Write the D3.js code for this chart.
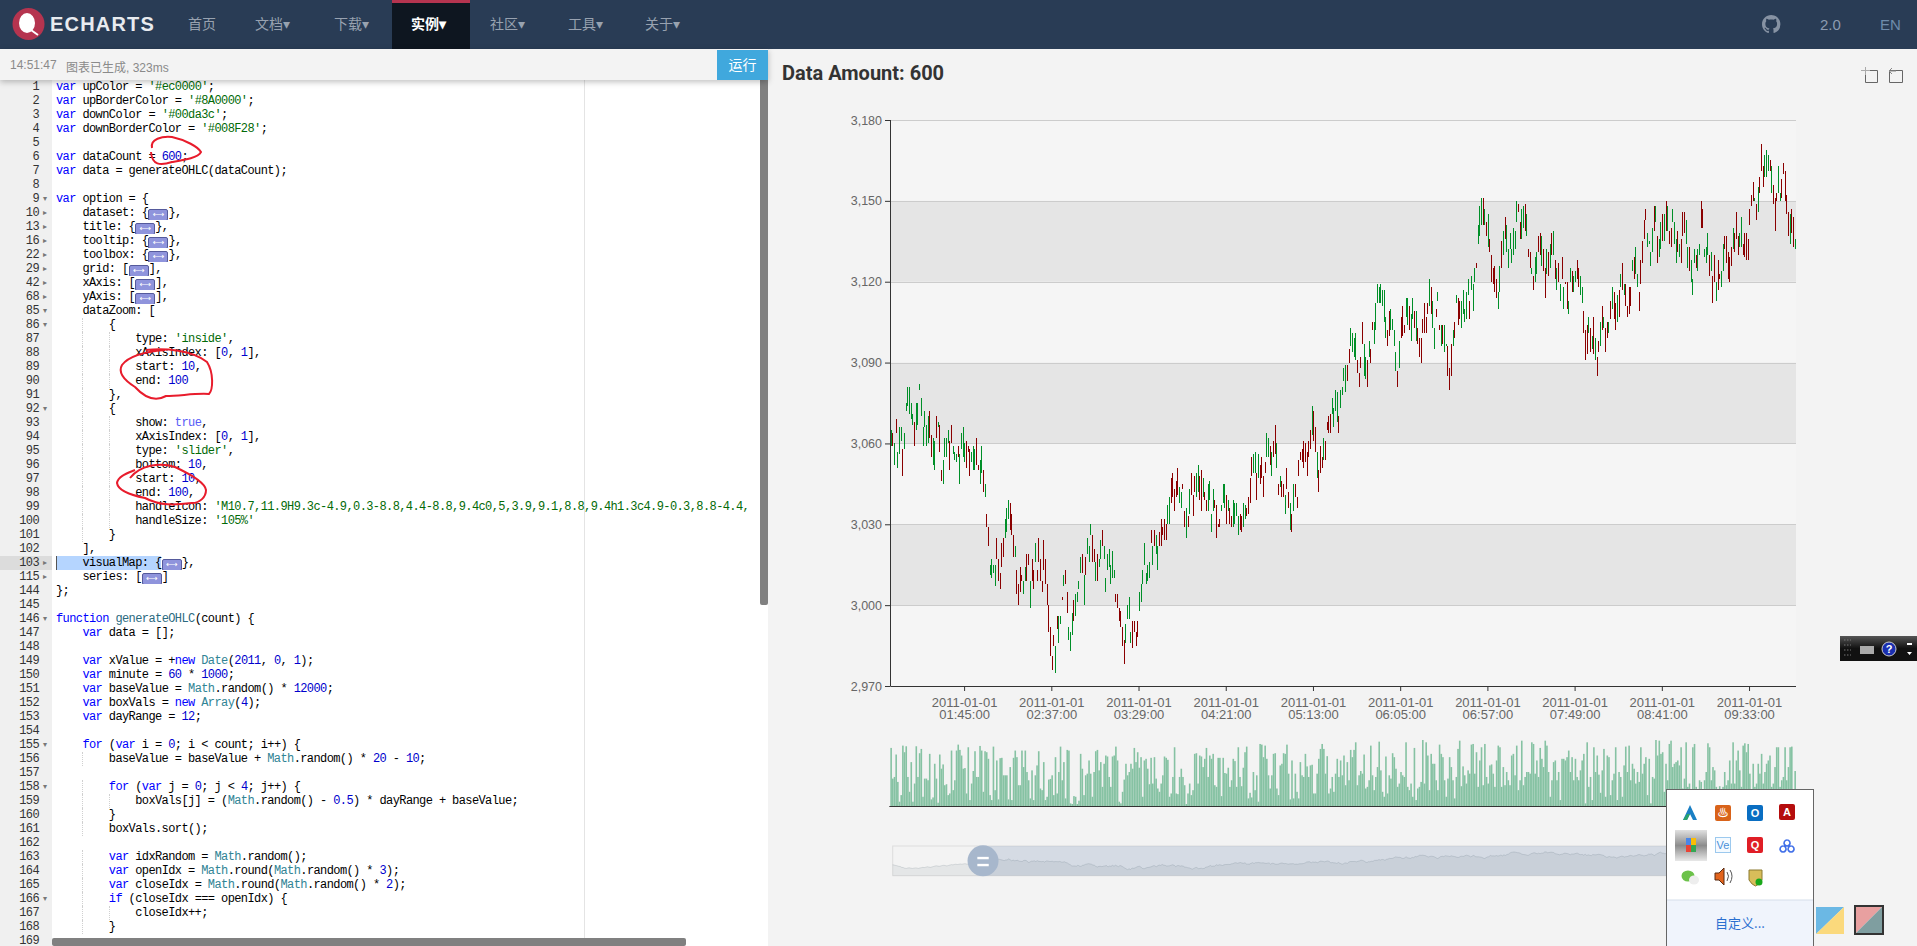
<!DOCTYPE html>
<html>
<head>
<meta charset="utf-8">
<title>ECharts example</title>
<script src="https://cdn.jsdelivr.net/npm/d3@7/dist/d3.min.js"></script>
<style>
  html, body { margin: 0; padding: 0; width: 1917px; height: 946px; overflow: hidden; background: #f3f3f3; font-family: "Liberation Sans", "Noto Sans CJK SC", sans-serif; }
  .abs { position: absolute; white-space: pre; }
  #nav { left: 0; top: 0; width: 1917px; height: 49px; background: #293c55; }
  .navitem { font-size: 14px; color: #98a2b0; top: 16px; line-height: 17px; }
  #tab { left: 392px; top: 0; width: 78px; height: 46px; background: #0e1620; border-top: 3px solid #b5344f; }
  #toolbar { left: 0; top: 49px; width: 768px; height: 31px; background: #f3f3f3; box-shadow: 0 2px 6px rgba(0,0,0,.25); z-index: 3; font-size: 12px; color: #8a8a8a; }
  #run { left: 717px; top: 50px; width: 51px; height: 30px; background: #40a8dd; color: #fff; font-size: 14px; line-height: 30px; text-align: center; z-index: 4; }
  #editor { left: 0; top: 80px; width: 768px; height: 866px; background: #fff; overflow: hidden; font-family: "Liberation Mono", monospace; font-size: 12px; letter-spacing: -0.6px; }
  #gutter { left: 0; top: 0; width: 52px; height: 866px; background: #f0f0f0; }
  .row { left: 56px; width: 704px; height: 14px; line-height: 14px; overflow: hidden; color: #000; }
  .num { left: 0; width: 39px; text-align: right; height: 14px; line-height: 14px; color: #333; }
  .fold { left: 43px; font-size: 8px; color: #777; height: 14px; line-height: 14px; font-family: "DejaVu Sans"; }
  .guide { top: 0; width: 0; height: 14px; border-left: 1px dotted #d0d0d0; }
  .kw { color: #0000ff; } .str { color: #036a07; } .nb { color: #0000cd; } .sup { color: #318495; } .con { color: #585cf6; } .def { color: #2b6a80; }
  .fw { display: inline-block; width: 20px; height: 12px; line-height: 10px; vertical-align: -1px; background: #8f94dc; border: 1px solid #555a9c; border-radius: 2px; margin: 0; color: #fff; font-size: 8px; letter-spacing: 0; text-align: center; box-sizing: border-box; font-family: "DejaVu Sans"; }
  svg { position: absolute; left: 0; top: 0; z-index: 5; }
  .price-axis text, .time-axis text { font-family: "Liberation Sans", sans-serif; font-size: 13px; fill: #666; }
  .price-axis text { font-size: 12.5px; }
  .price-axis path, .price-axis line, .time-axis path, .time-axis line { stroke: #333; }
</style>
</head>
<body>
<script>
// candles, one entry per minute from 01:01 to 10:00
const candleCount = 540;
const highs = [
  3065,3064,3060,3069,3057,3066,3066,3058,3064,3075,
  3081,3081,3075,3071,3068,3075,3075,3082,3077,3066,
  3072,3067,3070,3072,3063,3062,3061,3070,3068,3067,
  3050,3054,3062,3062,3065,3061,3067,3059,3057,3056,
  3059,3056,3064,3066,3060,3061,3059,3058,3057,3059,
  3058,3062,3052,3054,3059,3050,3045,3034,3029,3015,
  3017,3015,3015,3025,3017,3012,3023,3025,3032,3036,
  3039,3038,3034,3026,3022,3013,3008,3014,3011,3009,
  3014,3019,3019,3009,3017,3013,3023,3013,3025,3017,
  3009,3024,3017,3008,3000,2992,2981,2989,2985,2996,
  2996,2996,3003,3011,3013,3005,2992,2990,2997,3002,
  3004,3005,3009,3018,3019,3011,3018,3025,3022,3030,
  3026,3021,3016,3019,3017,3024,3028,3022,3010,3019,
  3021,3015,3020,3013,3004,3004,2999,2998,2992,2987,
  2993,3000,3003,2990,2994,2994,2990,2994,3005,3008,
  3013,3023,3012,3015,3016,3028,3022,3028,3026,3022,
  3027,3032,3029,3032,3030,3037,3040,3047,3049,3043,
  3046,3051,3044,3042,3045,3035,3036,3033,3043,3049,
  3041,3048,3049,3052,3048,3050,3047,3042,3039,3045,
  3046,3034,3043,3039,3037,3030,3032,3037,3045,3045,
  3041,3039,3036,3033,3039,3038,3038,3033,3034,3033,
  3038,3037,3036,3040,3047,3055,3056,3057,3049,3056,
  3052,3055,3048,3053,3064,3062,3059,3057,3061,3067,
  3060,3045,3048,3046,3045,3041,3051,3042,3038,3034,
  3045,3045,3040,3054,3057,3058,3061,3060,3057,3061,
  3065,3074,3072,3066,3057,3050,3059,3055,3062,3061,
  3068,3070,3071,3077,3073,3080,3079,3070,3080,3081,
  3088,3089,3089,3095,3103,3101,3099,3101,3091,3086,
  3092,3105,3097,3092,3091,3098,3095,3105,3105,3112,
  3119,3118,3119,3117,3117,3107,3102,3109,3110,3106,
  3102,3094,3087,3098,3107,3111,3104,3114,3114,3111,
  3108,3114,3109,3109,3103,3099,3099,3106,3112,3107,
  3112,3121,3118,3113,3103,3110,3116,3104,3104,3104,
  3104,3097,3096,3088,3097,3102,3105,3115,3114,3113,
  3113,3117,3110,3116,3121,3113,3122,3119,3125,3127,
  3141,3148,3151,3151,3147,3142,3145,3136,3130,3125,
  3126,3121,3116,3126,3135,3139,3144,3141,3132,3138,
  3132,3140,3139,3150,3149,3142,3147,3148,3149,3145,
  3132,3131,3125,3122,3129,3131,3137,3138,3137,3132,
  3125,3132,3131,3134,3138,3139,3128,3125,3127,3119,
  3129,3118,3120,3120,3113,3125,3124,3122,3124,3128,
  3125,3122,3118,3109,3102,3104,3107,3103,3100,3107,
  3099,3092,3098,3105,3111,3107,3103,3105,3105,3113,
  3118,3116,3112,3115,3117,3123,3127,3119,3119,3111,
  3118,3118,3128,3129,3133,3123,3116,3128,3135,3143,
  3147,3138,3135,3131,3140,3148,3148,3137,3136,3142,
  3145,3145,3150,3148,3139,3140,3147,3142,3136,3139,
  3134,3136,3146,3146,3143,3133,3133,3128,3121,3132,
  3130,3132,3134,3150,3147,3132,3133,3138,3130,3131,
  3122,3130,3120,3128,3123,3124,3134,3137,3137,3131,
  3129,3133,3140,3138,3146,3137,3138,3144,3134,3138,
  3138,3136,3147,3152,3157,3151,3149,3155,3159,3171,
  3163,3167,3169,3167,3165,3163,3156,3151,3153,3163,
  3153,3158,3164,3161,3152,3146,3145,3147,3144,3136
];
const lows = [
  3059,3059,3052,3064,3051,3056,3061,3048,3058,3072,
  3074,3071,3069,3067,3059,3065,3067,3080,3070,3059,
  3066,3059,3060,3062,3055,3052,3050,3062,3066,3057,
  3046,3045,3055,3055,3060,3050,3060,3056,3054,3053,
  3055,3045,3058,3055,3053,3051,3057,3048,3053,3050,
  3050,3052,3050,3045,3049,3042,3040,3029,3022,3011,
  3010,3012,3007,3017,3009,3006,3014,3018,3025,3027,
  3032,3028,3026,3018,3018,3004,3000,3005,3009,3004,
  3009,3009,3015,2999,3009,3006,3016,3009,3016,3009,
  3005,3013,3008,3000,2990,2981,2976,2985,2975,2991,
  2986,2993,3002,3007,3008,2997,2987,2983,2989,2994,
  2996,3001,3006,3012,3012,3000,3011,3019,3016,3026,
  3016,3016,3009,3009,3014,3017,3022,3017,3005,3013,
  3014,3008,3010,3010,3001,2999,2994,2992,2985,2978,
  2986,2995,2995,2986,2984,2990,2985,2988,2998,3001,
  3008,3015,3008,3009,3010,3023,3015,3022,3019,3013,
  3022,3022,3026,3024,3024,3030,3030,3038,3040,3035,
  3040,3041,3038,3036,3043,3029,3025,3029,3034,3041,
  3033,3042,3040,3042,3039,3035,3040,3039,3035,3035,
  3039,3027,3035,3036,3025,3029,3029,3035,3038,3036,
  3030,3035,3030,3029,3029,3030,3033,3026,3028,3027,
  3029,3032,3033,3034,3038,3048,3049,3049,3039,3047,
  3045,3047,3040,3049,3055,3055,3052,3048,3055,3056,
  3051,3041,3044,3040,3040,3034,3043,3036,3028,3027,
  3035,3040,3036,3048,3054,3053,3051,3053,3048,3055,
  3058,3063,3061,3057,3047,3042,3049,3051,3054,3054,
  3065,3064,3064,3071,3066,3072,3068,3064,3073,3078,
  3083,3079,3083,3090,3096,3094,3092,3091,3086,3081,
  3088,3097,3085,3084,3081,3092,3090,3102,3097,3102,
  3112,3112,3112,3111,3105,3099,3096,3100,3102,3102,
  3096,3087,3081,3088,3099,3100,3101,3107,3104,3102,
  3098,3106,3103,3098,3097,3092,3090,3101,3101,3101,
  3108,3111,3108,3103,3095,3107,3113,3102,3096,3097,
  3094,3096,3085,3080,3085,3096,3099,3112,3104,3106,
  3103,3108,3105,3106,3115,3106,3117,3109,3120,3125,
  3134,3137,3141,3141,3141,3137,3133,3131,3120,3119,
  3116,3114,3110,3116,3125,3130,3136,3131,3125,3132,
  3127,3130,3132,3142,3146,3136,3136,3140,3139,3137,
  3129,3125,3123,3117,3120,3123,3131,3130,3126,3124,
  3114,3123,3122,3125,3130,3130,3121,3117,3120,3113,
  3121,3110,3119,3110,3108,3120,3116,3116,3120,3121,
  3118,3115,3112,3101,3091,3093,3101,3094,3095,3093,
  3091,3085,3094,3096,3102,3103,3094,3099,3101,3106,
  3110,3106,3102,3105,3107,3118,3117,3115,3111,3107,
  3108,3111,3124,3121,3123,3118,3109,3119,3127,3136,
  3143,3133,3134,3126,3131,3139,3142,3127,3129,3132,
  3135,3135,3139,3139,3134,3133,3142,3134,3127,3131,
  3129,3127,3137,3138,3134,3125,3124,3120,3115,3127,
  3125,3124,3130,3140,3140,3129,3127,3130,3122,3124,
  3112,3120,3113,3117,3121,3118,3124,3132,3127,3121,
  3120,3126,3132,3131,3136,3130,3133,3133,3130,3129,
  3128,3128,3141,3148,3150,3150,3143,3146,3153,3161,
  3155,3159,3159,3161,3161,3153,3149,3139,3150,3153,
  3150,3151,3160,3150,3145,3137,3134,3138,3133,3132
];
// 1 = close above open (red), 0 = close below open (green)
const closedUp = [
  0,1,0,1,0,0,0,1,0,0,
  0,0,0,0,1,0,0,0,0,0,
  0,0,0,1,1,0,0,1,0,1,
  1,0,0,0,0,1,1,0,0,0,
  1,0,0,0,0,1,1,1,0,0,
  0,1,1,0,0,1,0,1,1,0,
  0,0,0,1,1,1,1,1,0,0,
  0,1,1,1,0,1,1,1,1,0,
  0,1,1,0,1,1,0,1,1,1,
  1,1,1,1,1,1,1,1,0,1,
  0,0,1,0,1,1,0,0,0,1,
  0,0,0,0,1,0,1,0,0,0,
  1,1,0,1,0,0,1,0,0,0,
  0,0,0,0,1,1,1,1,1,1,
  0,0,0,0,1,1,1,1,0,0,
  0,0,0,0,0,1,0,1,0,0,
  1,1,1,1,1,0,0,1,1,1,
  1,1,0,0,1,1,0,1,0,1,
  1,1,0,0,1,1,0,1,1,0,
  0,0,0,1,1,1,1,0,0,0,
  1,0,1,1,0,0,0,0,1,1,
  0,0,1,1,1,1,0,0,1,0,
  1,1,1,1,0,0,1,0,1,1,
  0,1,0,1,1,0,1,1,0,1,
  0,1,1,1,1,1,1,1,1,1,
  1,0,1,1,0,1,1,1,0,1,
  1,1,1,0,0,0,0,1,0,0,
  0,0,1,1,0,0,0,0,1,1,
  1,1,0,0,1,0,1,1,0,0,
  0,0,0,0,0,0,1,1,0,0,
  0,0,1,0,1,1,1,0,0,1,
  0,0,1,0,1,1,1,1,1,1,
  1,0,1,0,0,1,0,1,0,1,
  0,0,1,1,1,0,1,0,1,1,
  0,0,0,0,0,1,0,0,0,1,
  0,0,0,1,0,1,0,1,1,1,
  1,1,0,0,1,0,1,0,0,0,
  0,0,0,0,1,1,0,0,1,0,
  1,1,0,1,0,0,1,1,0,1,
  1,0,1,0,1,0,1,0,1,0,
  1,0,1,1,0,0,1,0,0,1,
  1,0,0,1,1,1,0,1,0,1,
  0,1,1,0,1,0,1,1,0,1,
  0,1,1,0,1,0,1,0,1,1,
  1,1,0,1,0,0,1,1,1,1,
  1,0,0,0,0,1,0,1,0,0,
  1,0,1,0,1,1,0,0,0,1,
  0,1,1,1,0,0,1,0,0,0,
  1,0,0,1,1,0,0,0,1,0,
  1,1,0,1,1,0,0,1,1,1,
  1,1,0,1,1,1,0,0,1,1,
  1,1,1,1,1,0,1,0,1,1,
  1,0,0,0,1,0,1,1,1,0,
  0,1,1,1,1,1,0,1,1,0
];
const volumes = [
  176,83,88,156,73,13,33,183,163,181,
  88,43,133,13,68,181,88,160,173,28,
  83,83,78,158,20,26,128,83,10,156,
  113,126,63,66,33,38,168,48,78,168,
  186,170,153,113,115,38,178,18,68,106,
  166,88,88,182,168,43,166,163,143,33,
  18,180,48,138,20,145,146,93,93,93,
  20,118,18,146,168,148,63,63,168,118,
  168,103,78,23,108,18,93,123,166,53,
  48,133,18,28,80,82,93,33,148,38,
  103,180,78,133,23,170,168,8,6,30,
  28,6,16,158,113,33,93,98,138,98,
  28,103,166,170,108,133,58,128,153,150,
  88,58,150,153,180,138,13,8,43,80,
  128,93,103,128,113,176,133,163,116,148,
  28,138,143,113,66,146,68,148,83,53,
  43,68,93,150,146,140,28,38,88,178,
  38,36,88,113,88,63,6,38,68,33,
  48,158,160,68,153,150,118,143,176,88,
  153,143,158,63,58,146,146,30,146,100,
  98,116,58,78,143,136,58,178,88,60,
  116,163,180,23,40,26,103,48,93,13,
  188,186,148,183,143,93,53,93,158,160,
  53,33,123,128,160,158,186,98,20,138,
  23,98,43,23,133,93,88,158,120,88,
  123,125,38,38,98,143,173,188,173,98,
  151,38,53,88,43,98,143,88,138,93,
  153,63,133,78,170,148,170,193,63,93,
  106,98,156,53,58,78,183,93,48,88,
  118,195,108,43,28,150,38,93,83,160,
  148,113,58,68,103,93,88,193,58,48,
  68,28,176,18,53,58,73,200,68,193,
  153,48,158,128,128,78,48,186,158,148,
  78,28,83,148,118,78,23,88,173,198,60,120,
  93,68,108,98,186,188,98,163,58,138,
  178,63,188,88,68,123,126,98,58,138,
  183,178,58,118,63,103,78,63,153,158,
  93,183,48,78,198,63,88,103,103,98,
  193,188,98,138,88,176,143,118,198,183,
  103,28,78,133,138,78,103,18,143,143,
  138,148,168,103,148,78,143,88,78,108,
  138,158,8,193,58,88,18,178,103,153,95,40,
  108,173,28,153,148,33,78,98,178,18,
  103,88,28,123,180,103,183,78,128,113,
  68,103,73,178,98,128,148,33,143,8,
  88,83,200,153,198,158,163,43,128,78,
  188,198,118,128,133,138,123,178,53,83,
  193,58,68,48,178,188,58,48,78,73,
  48,78,103,190,178,78,118,108,58,48,60,40,
  58,103,63,78,138,68,193,68,138,168,
  108,58,183,190,163,188,98,48,128,58,
  68,128,98,158,68,103,128,138,153,58,
  68,118,178,178,58,78,88,178,78,118,
  178,180,48,106
];
// the 60 minutes before the zoom window, only seen in the slider shadow
const earlyCloses = [
  3025,3022,3018,3015,3010,3008,3000,2998,2992,2990,
  2994,2996,2993,2990,2992,2995,2994,2990,2994,2997,
  3000,2998,3002,3006,3003,3000,3004,3008,3012,3015,
  3012,3010,3014,3018,3020,3017,3014,3018,3022,3026,
  3024,3028,3030,3027,3030,3032,3030,3033,3035,3032,
  3030,3034,3032,3035,3033,3036,3040,3046,3052,3060
];
const priceTicks = [2970, 3000, 3030, 3060, 3090, 3120, 3150, 3180];
const timeTicks = ["01:45:00", "02:37:00", "03:29:00", "04:21:00", "05:13:00", "06:05:00", "06:57:00", "07:49:00", "08:41:00", "09:33:00"];
const tickDate = "2011-01-01";

const navItems = [["首页", 188], ["文档▾", 255], ["下载▾", 334], ["实例▾", 411], ["社区▾", 490], ["工具▾", 568], ["关于▾", 645]];

// line number, source text; {F} is a folded block
const codeLines = [
  [1, "var upColor = '#ec0000';"], [2, "var upBorderColor = '#8A0000';"], [3, "var downColor = '#00da3c';"],
  [4, "var downBorderColor = '#008F28';"], [5, ""], [6, "var dataCount = 600;"],
  [7, "var data = generateOHLC(dataCount);"], [8, ""], [9, "var option = {", "v"],
  [10, "    dataset: {{F}},", ">"], [13, "    title: {{F}},", ">"], [16, "    tooltip: {{F}},", ">"],
  [22, "    toolbox: {{F}},", ">"], [29, "    grid: [{F}],", ">"], [42, "    xAxis: [{F}],", ">"],
  [68, "    yAxis: [{F}],", ">"], [85, "    dataZoom: [", "v"], [86, "        {", "v"],
  [87, "            type: 'inside',"], [88, "            xAxisIndex: [0, 1],"], [89, "            start: 10,"],
  [90, "            end: 100"], [91, "        },"], [92, "        {", "v"], [93, "            show: true,"],
  [94, "            xAxisIndex: [0, 1],"], [95, "            type: 'slider',"], [96, "            bottom: 10,"],
  [97, "            start: 10,"], [98, "            end: 100,"],
  [99, "            handleIcon: 'M10.7,11.9H9.3c-4.9,0.3-8.8,4.4-8.8,9.4c0,5,3.9,9.1,8.8,9.4h1.3c4.9-0.3,8.8-4.4,"],
  [100, "            handleSize: '105%'"], [101, "        }"], [102, "    ],"], [103, "    visualMap: {{F}},", ">"],
  [115, "    series: [{F}]", ">"], [144, "};"], [145, ""], [146, "function generateOHLC(count) {", "v"],
  [147, "    var data = [];"], [148, ""], [149, "    var xValue = +new Date(2011, 0, 1);"],
  [150, "    var minute = 60 * 1000;"], [151, "    var baseValue = Math.random() * 12000;"],
  [152, "    var boxVals = new Array(4);"], [153, "    var dayRange = 12;"], [154, ""],
  [155, "    for (var i = 0; i < count; i++) {", "v"], [156, "        baseValue = baseValue + Math.random() * 20 - 10;"],
  [157, ""], [158, "        for (var j = 0; j < 4; j++) {", "v"],
  [159, "            boxVals[j] = (Math.random() - 0.5) * dayRange + baseValue;"], [160, "        }"],
  [161, "        boxVals.sort();"], [162, ""], [163, "        var idxRandom = Math.random();"],
  [164, "        var openIdx = Math.round(Math.random() * 3);"], [165, "        var closeIdx = Math.round(Math.random() * 2);"],
  [166, "        if (closeIdx === openIdx) {", "v"], [167, "            closeIdx++;"], [168, "        }"], [169, ""]
];

const charWidth = 6.6;
const rowHeight = 14;

// tiny highlighter, same colours as the ace editor theme in the picture
function highlight(text) {
  const tokens = /('[^']*'?$|'[^']*')|\b(var|function|for|if|new)\b|\b(Math|Date|Array)\b|\b(true)\b|\b(generateOHLC(?=\(count))\b|\b(\d+(?:\.\d+)?)\b|(\{F\})|(<)/g;
  return text.replace(tokens, (m, str, kw, sup, con, def, nb, fw, lt) => {
    if (str) return `<span class="str">${str}</span>`;
    if (kw) return `<span class="kw">${kw}</span>`;
    if (sup) return `<span class="sup">${sup}</span>`;
    if (con) return `<span class="con">${con}</span>`;
    if (def) return `<span class="def">${def}</span>`;
    if (nb) return `<span class="nb">${nb}</span>`;
    if (fw) return `<span class="fw">⟷</span>`;
    return "&lt;";
  });
}

const body = d3.select("body");

function box(parent, cls, left, top) {
  const el = parent.append("div").attr("class", "abs " + cls);
  if (left !== undefined) el.style("left", left + "px");
  if (top !== undefined) el.style("top", top + "px");
  return el;
}

// site header
const nav = body.append("div").attr("id", "nav").attr("class", "abs");
nav.append("div").attr("id", "tab").attr("class", "abs");
navItems.forEach(([label, left]) => {
  const item = box(nav, "navitem", left).text(label);
  if (label.startsWith("实例")) item.style("color", "#fff").style("font-weight", "bold");
});
box(nav, "navitem", 1820).text("2.0").style("font-size", "15px").style("color", "#8c9bb0");
box(nav, "navitem", 1880).text("EN").style("font-size", "15px").style("color", "#6f8cab");

// editor toolbar
const toolbar = body.append("div").attr("id", "toolbar").attr("class", "abs");
box(toolbar, "", 10, 9).text("14:51:47");
box(toolbar, "", 66, 9).text("图表已生成, 323ms");
body.append("div").attr("id", "run").attr("class", "abs").text("运行");

// code editor
const editor = body.append("div").attr("id", "editor").attr("class", "abs");
editor.append("div").attr("id", "gutter").attr("class", "abs");
box(editor, "").style("left", "584px").style("top", "0").style("width", "1px").style("height", "858px").style("background", "#e4e4e4");
box(editor, "").style("left", "0").style("top", 34 * rowHeight + "px").style("width", "52px").style("height", rowHeight + "px").style("background", "#dcdcdc");
box(editor, "").style("left", "56px").style("top", 34 * rowHeight + "px").style("width", "105px").style("height", rowHeight + "px").style("background", "#b5d5ff");
box(editor, "").style("left", "56px").style("top", 34 * rowHeight + "px").style("width", "1px").style("height", rowHeight + "px").style("background", "#555");

codeLines.forEach(([lineNo, text, foldMark], i) => {
  const top = i * rowHeight;
  box(editor, "num", undefined, top).text(lineNo);
  if (foldMark) box(editor, "fold", undefined, top).text(foldMark === "v" ? "▾" : "▸");
  const row = box(editor, "row", undefined, top).html(highlight(text));
  const indent = text.length - text.trimStart().length;
  for (let col = 4; col < indent; col += 4) {
    box(row, "guide", col * charWidth);
  }
});

// scrollbars
box(body, "").style("left", "760px").style("top", "80px").style("width", "8px").style("height", "525px").style("background", "#808080").style("border-radius", "0 0 2px 2px").style("z-index", 2);
box(body, "").style("left", "52px").style("top", "938px").style("width", "634px").style("height", "8px").style("background", "#808080").style("border-radius", "2px");

// chart
const svg = body.append("svg").attr("width", 1917).attr("height", 946);

const plot = { left: 890.3, right: 1796, top: 120, bottom: 686 };
const x = d3.scaleLinear().domain([0, candleCount]).range([plot.left, plot.right]);
const y = d3.scaleLinear().domain([2970, 3180]).range([plot.bottom, plot.top]);
const yVolume = d3.scaleLinear().domain([0, 200]).range([806, 740]);
const upColor = "#8A0000";
const downColor = "#008F28";

svg.append("text").attr("x", 782).attr("y", 80).attr("font-family", "Roboto, 'Liberation Sans', sans-serif")
  .attr("font-weight", "bold").attr("font-size", 20).attr("fill", "#333").text("Data Amount: 600");

// split areas, every other band darker
const bands = d3.pairs(priceTicks);
svg.append("g").selectAll("rect").data(bands).join("rect")
  .attr("x", plot.left).attr("width", plot.right - plot.left)
  .attr("y", (d) => y(d[1])).attr("height", (d) => y(d[0]) - y(d[1]))
  .attr("fill", (d, i) => (i % 2 === 0 ? "#f5f5f5" : "#e5e5e5"))
  .attr("fill-opacity", 1);
svg.append("g").selectAll("line").data(priceTicks.slice(1)).join("line")
  .attr("x1", plot.left).attr("x2", plot.right)
  .attr("y1", (d) => Math.round(y(d)) + 0.5).attr("y2", (d) => Math.round(y(d)) + 0.5)
  .attr("stroke", "#ccc");

// candles
const candles = d3.range(candleCount);
svg.append("g").attr("class", "candles").attr("shape-rendering", "crispEdges")
  .selectAll("rect").data(candles).join("rect")
  .attr("x", (i) => Math.round(x(i + 0.5) - 0.5))
  .attr("width", 1)
  .attr("y", (i) => y(highs[i]))
  .attr("height", (i) => y(lows[i]) - y(highs[i]))
  .attr("fill", (i) => (closedUp[i] ? upColor : downColor));

// volume bars
svg.append("g").attr("class", "volume-bars")
  .selectAll("rect").data(candles).join("rect")
  .attr("x", (i) => x(i + 0.5) - 0.8)
  .attr("width", 1.6)
  .attr("y", (i) => yVolume(volumes[i]))
  .attr("height", (i) => yVolume(0) - yVolume(volumes[i]))
  .attr("fill", "#86c2a3");
svg.append("line").attr("x1", plot.left - 1).attr("x2", plot.right)
  .attr("y1", yVolume(0) + 0.5).attr("y2", yVolume(0) + 0.5).attr("stroke", "#333");

// axes
const priceAxis = d3.axisLeft(y).tickValues(priceTicks).tickSize(5).tickSizeOuter(0).tickFormat(d3.format(","));
svg.append("g").attr("class", "price-axis").attr("transform", `translate(${Math.floor(plot.left)},0)`).call(priceAxis);
svg.selectAll(".price-axis .domain").attr("d", `M0.5,${plot.top}V${plot.bottom}`);

// tick index from the label: minutes after 01:01
const tickIndex = (label) => +label.slice(0, 2) * 60 + +label.slice(3, 5) - 61;
const timeAxis = d3.axisBottom(x).tickValues(timeTicks.map(tickIndex)).tickSize(5).tickSizeOuter(0).tickFormat("");
const timeGroup = svg.append("g").attr("class", "time-axis").attr("transform", `translate(0,${plot.bottom})`).call(timeAxis);
timeGroup.select(".domain").attr("d", `M${plot.left},0.5H${plot.right}`);
timeGroup.selectAll(".tick text").data(timeTicks).each(function (d) {
  const label = d3.select(this).text(null).attr("y", 10).attr("dy", null);
  label.append("tspan").attr("x", 0).attr("dy", "0.85em").text(tickDate);
  label.append("tspan").attr("x", 0).attr("dy", 12).text(d);
});

// dataZoom slider
const slider = { left: 892.7, right: 1796, top: 846, bottom: 875.7 };
const sliderX = d3.scaleLinear().domain([0, earlyCloses.length + candleCount]).range([slider.left, slider.right]);
const sliderY = d3.scaleLinear().domain([2975, 3171]).range([870, 849.4]);
const shadowValues = earlyCloses.concat(candles.map((i) => (highs[i] + lows[i]) / 2));
const startX = sliderX(earlyCloses.length);

svg.append("rect").attr("x", slider.left).attr("y", slider.top)
  .attr("width", slider.right - slider.left).attr("height", slider.bottom - slider.top)
  .attr("fill", "none").attr("stroke", "#ddd");
svg.append("rect").attr("x", startX).attr("y", slider.top)
  .attr("width", slider.right - startX).attr("height", slider.bottom - slider.top)
  .attr("fill", "rgba(167,183,204,0.4)");
svg.append("path").datum(shadowValues)
  .attr("fill", "rgba(47,69,84,0.07)")
  .attr("d", d3.area().x((d, i) => sliderX(i)).y0(slider.bottom).y1((d) => sliderY(d)));
svg.append("path").datum(shadowValues)
  .attr("fill", "none").attr("stroke", "rgba(47,69,84,0.14)")
  .attr("d", d3.line().x((d, i) => sliderX(i)).y((d) => sliderY(d)));
const handle = svg.append("g").attr("transform", `translate(${startX},${(slider.top + slider.bottom) / 2})`);
handle.append("circle").attr("r", 15.5).attr("fill", "#a7b7cc");
handle.append("rect").attr("x", -5.7).attr("y", -4).attr("width", 11.4).attr("height", 2.4).attr("fill", "#fff");
handle.append("rect").attr("x", -5.7).attr("y", 3).attr("width", 11.4).attr("height", 2.4).attr("fill", "#fff");

// toolbox icons
const tools = svg.append("g").attr("fill", "none").attr("stroke", "#666");
tools.append("path").attr("d", "M1865.5,70.5h12v12h-12z");
tools.append("path").attr("stroke", "#aaa").attr("d", "M1861,70.5h9M1865.5,67v8");
tools.append("path").attr("d", "M1889.5,70.5h13v12h-13z");
tools.append("path").attr("stroke", "#888").attr("d", "M1896,71h-7l3,-3M1889,71l3,3");

// red pen circles from the screenshot
const pen = svg.append("g").attr("fill", "none").attr("stroke", "#e81c2c").attr("stroke-width", 2);
pen.append("path").attr("d", "M152,148C150,139 162,136 172,137C186,140 198,147 201,152C198,158 184,160 172,162C160,166 152,165 151,152");
pen.append("path").attr("d", "M146,350C165,348 192,350 207,362C214,373 213,390 209,394C195,393 180,396 166,396C155,402 145,398 135,387C124,380 118,372 122,365C128,357 140,352 165,350");
pen.append("path").attr("d", "M130,478C140,465 160,462 175,467C190,474 205,483 206,490C206,497 200,503 192,503C175,505 160,506 145,498C130,495 118,490 117,483C118,476 128,473 135,470");

// windows language bar and tray popup, part of the screenshot
const langBar = svg.append("g");
const defs = svg.append("defs");
const barGradient = defs.append("linearGradient").attr("id", "bar-fill").attr("x2", 0).attr("y2", 1);
barGradient.append("stop").attr("offset", 0).attr("stop-color", "#555");
barGradient.append("stop").attr("offset", 0.5).attr("stop-color", "#111");
const cellGradient = defs.append("linearGradient").attr("id", "cell-fill").attr("x2", 0).attr("y2", 1);
cellGradient.append("stop").attr("offset", 0).attr("stop-color", "#e0e0e0");
cellGradient.append("stop").attr("offset", 0.5).attr("stop-color", "#8c8c8c");
cellGradient.append("stop").attr("offset", 1).attr("stop-color", "#e8e8e8");
langBar.append("rect").attr("x", 1840).attr("y", 636).attr("width", 77).attr("height", 25).attr("fill", "url(#bar-fill)");
langBar.append("path").attr("d", "M1844,640h7M1844,645h7M1844,650h7M1844,655h7").attr("stroke", "#777").attr("stroke-dasharray", "1.5,1.5");
langBar.append("rect").attr("x", 1860).attr("y", 646).attr("width", 14).attr("height", 8).attr("fill", "#aaa");
langBar.append("circle").attr("cx", 1889).attr("cy", 649).attr("r", 7).attr("fill", "#1a2fb0").attr("stroke", "#ccc");
langBar.append("text").attr("x", 1889).attr("y", 653).attr("text-anchor", "middle").attr("font-size", 11).attr("font-weight", "bold").attr("fill", "#fff").text("?");
langBar.append("path").attr("d", "M1907,643h5v2h-5zM1907,652h5l-2.5,3z").attr("fill", "#fff");

const tray = svg.append("g");
tray.append("rect").attr("x", 1666.5).attr("y", 789.5).attr("width", 147).attr("height", 160).attr("fill", "#fff").attr("stroke", "#666");
tray.append("rect").attr("x", 1667).attr("y", 900).attr("width", 146).attr("height", 46).attr("fill", "#f0f4fc");
tray.append("line").attr("x1", 1667).attr("x2", 1813).attr("y1", 900).attr("y2", 900).attr("stroke", "#d5deea");
tray.append("text").attr("x", 1740).attr("y", 928).attr("text-anchor", "middle").attr("font-size", 13).attr("font-family", "Noto Sans CJK SC").attr("fill", "#2a6fd0").text("自定义...");
tray.append("rect").attr("x", 1675).attr("y", 830).attr("width", 32).attr("height", 31).attr("fill", "url(#cell-fill)");
// tile icons: centre x, centre y, tile colour, glyph
const trayTiles = [
  [1723, 813, "#d9631a", "♨"], [1755, 813, "#0a6ec2", "O"], [1787, 812, "#b50d0d", "A"], [1755, 845, "#e01e26", "Q"]
];
tray.selectAll("g.tile").data(trayTiles).join("g").attr("class", "tile")
  .attr("transform", (d) => `translate(${d[0]},${d[1]})`)
  .each(function (d) {
    const g = d3.select(this);
    g.append("rect").attr("x", -8).attr("y", -8).attr("width", 16).attr("height", 16).attr("rx", 2).attr("fill", d[2]);
    g.append("text").attr("y", 4).attr("text-anchor", "middle").attr("font-size", 11).attr("font-weight", "bold").attr("fill", "#fff").text(d[3]);
  });
tray.append("path").attr("d", "M1690,805L1697,820H1693L1690,814L1687,820H1683Z").attr("fill", "#1a7fc4");
tray.append("path").attr("d", "M1683,820L1687,814H1690L1687,820Z").attr("fill", "#2aa36b");
[["#4a86e8", 1686, 838], ["#fbbc05", 1691, 838], ["#ea4335", 1686, 845], ["#34a853", 1691, 845]].forEach(([c, cx, cy]) => {
  tray.append("rect").attr("x", cx).attr("y", cy).attr("width", 5).attr("height", 7).attr("fill", c);
});
tray.append("rect").attr("x", 1715.5).attr("y", 837.5).attr("width", 15).attr("height", 15).attr("fill", "#f4faff").attr("stroke", "#9cc9ee");
tray.append("text").attr("x", 1723).attr("y", 849).attr("text-anchor", "middle").attr("font-size", 11).attr("fill", "#4a90d9").text("Ve");
tray.append("path").attr("d", "M1787,840a3,3 0 1 0 .1,0M1783,846a3,3 0 1 0 .1,0M1791,846a3,3 0 1 0 .1,0").attr("fill", "none").attr("stroke", "#3f6ee8").attr("stroke-width", 1.6);
tray.append("ellipse").attr("cx", 1688).attr("cy", 876).attr("rx", 6.5).attr("ry", 5.5).attr("fill", "#6cc24a");
tray.append("ellipse").attr("cx", 1694).attr("cy", 880).attr("rx", 5).attr("ry", 4.5).attr("fill", "#eee");
tray.append("path").attr("d", "M1715,873h4l5,-5v17l-5,-5h-4z").attr("fill", "#e3641c").attr("stroke", "#5a2a10");
tray.append("path").attr("d", "M1727,872q3,4 0,9M1730,870q4,6 0,13").attr("fill", "none").attr("stroke", "#555");
tray.append("path").attr("d", "M1749,870h13v10q-3,5 -6.5,6q-3.500,-1 -6.500,-6z").attr("fill", "#d8bd5a").attr("stroke", "#8c7a30");
tray.append("circle").attr("cx", 1759).attr("cy", 882).attr("r", 3.5).attr("fill", "#1aa81a");
svg.append("path").attr("d", "M1816,934V907H1844Z").attr("fill", "#6bb8e4");
svg.append("path").attr("d", "M1844,907V934H1816Z").attr("fill", "#fbd97c");
svg.append("path").attr("d", "M1855,934V906H1883Z").attr("fill", "#e8a0a0");
svg.append("path").attr("d", "M1883,906V934H1855Z").attr("fill", "#7f9ea0");
svg.append("rect").attr("x", 1855).attr("y", 906).attr("width", 28).attr("height", 28).attr("fill", "none").attr("stroke", "#333").attr("stroke-width", 2);

// header logo and github mark
const logo = svg.append("g");
logo.append("circle").attr("cx", 28.5).attr("cy", 24).attr("r", 16).attr("fill", "#b5344f");
logo.append("ellipse").attr("cx", 27).attr("cy", 23).attr("rx", 8).attr("ry", 10).attr("fill", "#fff");
logo.append("path").attr("d", "M31,30l7,5").attr("stroke", "#fff").attr("stroke-width", 2);
logo.append("text").attr("x", 50).attr("y", 31).attr("font-family", "Liberation Sans").attr("font-weight", "bold")
  .attr("font-size", 20).attr("letter-spacing", 1.2).attr("fill", "#e8ebef").text("ECHARTS");
svg.append("path").attr("transform", "translate(1762,15) scale(1.15)").attr("fill", "#8692a3")
  .attr("d", "M8 0C3.58 0 0 3.58 0 8c0 3.54 2.29 6.53 5.47 7.59.4.07.55-.17.55-.38 0-.19-.01-.82-.01-1.49-2.01.37-2.53-.49-2.69-.94-.09-.23-.48-.94-.82-1.13-.28-.15-.68-.52-.01-.53.63-.01 1.08.58 1.23.82.72 1.21 1.87.87 2.33.66.07-.52.28-.87.51-1.07-1.78-.2-3.64-.89-3.64-3.95 0-.87.31-1.59.82-2.15-.08-.2-.36-1.02.08-2.12 0 0 .67-.21 2.2.82.64-.18 1.32-.27 2-.27.68 0 1.36.09 2 .27 1.53-1.04 2.2-.82 2.2-.82.44 1.1.16 1.92.08 2.12.51.56.82 1.27.82 2.15 0 3.07-1.87 3.75-3.65 3.95.29.25.54.73.54 1.48 0 1.07-.01 1.93-.01 2.2 0 .21.15.46.55.38A8.013 8.013 0 0016 8c0-4.42-3.58-8-8-8z");
</script>
</body>
</html>
